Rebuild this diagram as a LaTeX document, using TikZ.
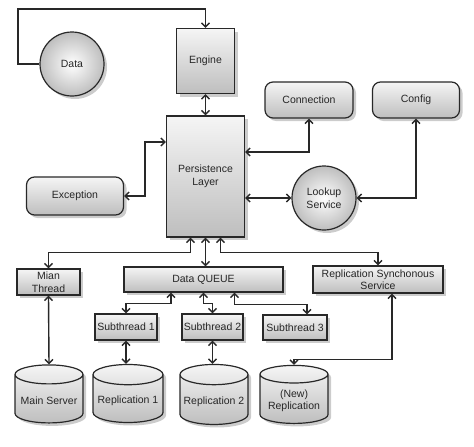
\documentclass[tikz,border=0pt]{standalone}
\usepackage{fontspec}
\setmainfont{Liberation Sans}
\usepackage{tikz}
\usetikzlibrary{calc, positioning, arrows.meta, shapes.geometric, shadows}
\usepackage{xcolor}
\definecolor{edge}{RGB}{40, 40, 40}
\definecolor{boxtop}{RGB}{245, 245, 245}
\definecolor{boxbot}{RGB}{190, 190, 190}

\begin{document}
\begin{tikzpicture}[x=1pt, y=-1pt,
  every node/.style={font=\fontsize{10.5}{12.5}\selectfont, text=black!85, align=center},
  shade/.style={top color=boxtop, bottom color=boxbot, draw=edge, line width=1.2pt,
    drop shadow={shadow xshift=3pt, shadow yshift=-3pt, fill=black!40, opacity=0.5}},
  box/.style={shade, rectangle, inner sep=1pt},
  rbox/.style={shade, rectangle, rounded corners=8pt},
  disk/.style={draw=edge, line width=1.2pt, circle, inner color=white, outer color=boxbot,
    drop shadow={shadow xshift=3pt, shadow yshift=-3pt, fill=black!40, opacity=0.5}},
  store/.style={shade, cylinder, shape border rotate=90, aspect=0.3},
  link/.style={draw=edge, line width=1.4pt, {Straight Barb[length=4pt, width=8pt]}-{Straight Barb[length=4pt, width=8pt]}},
  flow/.style={draw=edge, line width=1.4pt, -{Straight Barb[length=4pt, width=8pt]}}]
  \useasboundingbox (0,0) rectangle (474,447);

  % upper part
  \node[disk, minimum size=64] (data) at (72,64) {Data};
  \node[box, minimum width=58, minimum height=65] (engine) at (205.5,61) {Engine};
  \node[box, minimum width=78, minimum height=121] (pl) at (205.5,176.5) {Persistence\\Layer};
  \node[rbox, minimum width=88, minimum height=36] (conn) at (309,100) {Connection};
  \node[rbox, minimum width=87, minimum height=36] (config) at (416,100) {Config};
  \node[disk, minimum size=64] (lookup) at (324,198) {Lookup\\Service};
  \node[rbox, minimum width=97, minimum height=38] (exc) at (75,196) {Exception};

  % threads
  \node[box, minimum width=63, minimum height=26] (mian) at (48.5,282) {Mian\\Thread};
  \node[box, minimum width=159, minimum height=25] (dq) at (203.5,279.5) {Data QUEUE};
  \node[box, minimum width=130, minimum height=27] (rss) at (378,279.5) {Replication Synchonous\\Service};
  \node[box, minimum width=62, minimum height=26] (sub1) at (126,327) {Subthread 1};
  \node[box, minimum width=61, minimum height=26] (sub2) at (212.5,327) {Subthread 2};
  \node[box, minimum width=64, minimum height=25] (sub3) at (295,327.5) {Subthread 3};

  % servers
  \node[store, minimum width=68, minimum height=58] (ms) at (49,401) {Main Server};
  \node[store, minimum width=70, minimum height=58] (r1) at (128,401) {Replication 1};
  \node[store, minimum width=68, minimum height=60] (r2) at (214,402) {Replication 2};
  \node[store, minimum width=68, minimum height=58] (nr) at (294,401) {(New)\\Replication};

  % links
  \coordinate (loop) at (18,9);
  \draw[flow] (data.west) -| (loop) -| (engine.north);
  \draw[link] (engine.south) -- (pl.north);
  \draw[link] (conn.south) |- ([yshift=24.5pt]pl.east);
  \draw[link] (pl.east |- lookup.west) -- (lookup.west);
  \draw[link] (config.south) |- (lookup.east);
  \draw[link] ([yshift=34.5pt]pl.west) -- ++(-21,0) |- (exc.east);
  \draw[link] ([xshift=-15pt]pl.south) -- ++(0,15) -| (mian.north);
  \draw[link] (pl.south) -- (pl.south |- dq.north);
  \draw[link] ([xshift=15pt]pl.south) -- ++(0,15) -| (rss.north);
  \draw[link] ([xshift=-32.5pt]dq.south) -- ++(0,11) -| (sub1.north);
  \draw[link] (dq.south) -- ++(0,11) -| (sub2.north);
  \draw[link] ([xshift=31pt]dq.south) -- ++(0,12) -| ([xshift=12pt]sub3.north);
  \draw[link] (mian.south) -- (ms.north);
  \draw[link] (sub1.south) -- (sub1.south |- r1.north);
  \draw[link] (sub2.south) -- (sub2.south |- r2.north);
  \draw[link] ([xshift=14pt]rss.south) -- ++(0,66) -| (nr.north);
\end{tikzpicture}
\end{document}
